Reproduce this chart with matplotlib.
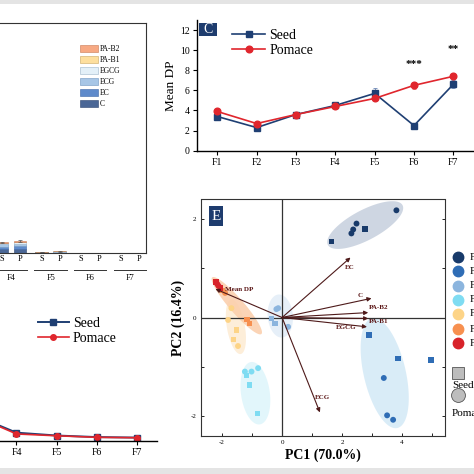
import numpy as np
import matplotlib
matplotlib.use("Agg")
import matplotlib.pyplot as plt
from matplotlib.patches import Rectangle, Polygon
from matplotlib.lines import Line2D
import matplotlib.transforms as mtransforms

plt.rcParams['font.family'] = ['Liberation Serif', 'DejaVu Serif']

# ---------------- data ----------------
fractions = ["F1", "F2", "F3", "F4", "F5", "F6", "F7"]
sub_labels = ["S", "P"]
visible_from = 3  # groups F1-F3 lie outside the cropped picture

# stacked composition (panel left-top), order bottom -> top
comp_names = ["C", "EC", "ECG", "EGCG", "PA-B1", "PA-B2"]
comp_colors = ["#4B6796", "#5E8ACB", "#A7C6E6", "#E3F0F8", "#FDDF9E", "#F7A983"]
comp_edges = ["#2E4670", "#3E68A8", "#6E95C0", "#9DB5C9", "#C9A760", "#C97A55"]
seed_comp = {
    "C":     [4.0, 2.5, 1.2, 0.35, 0.05, 0.01, 0.01],
    "EC":    [3.5, 2.2, 1.0, 0.30, 0.04, 0.01, 0.01],
    "ECG":   [2.5, 1.5, 0.8, 0.25, 0.02, 0.00, 0.00],
    "EGCG":  [1.0, 0.6, 0.4, 0.15, 0.01, 0.00, 0.00],
    "PA-B1": [0.8, 0.5, 0.2, 0.05, 0.00, 0.00, 0.00],
    "PA-B2": [0.8, 0.5, 0.2, 0.05, 0.00, 0.00, 0.00],
}
pomace_comp = {
    "C":     [4.2, 2.7, 1.3, 0.40, 0.06, 0.01, 0.01],
    "EC":    [3.6, 2.3, 1.1, 0.35, 0.05, 0.01, 0.01],
    "ECG":   [2.6, 1.6, 0.9, 0.25, 0.02, 0.00, 0.00],
    "EGCG":  [1.1, 0.7, 0.4, 0.15, 0.01, 0.00, 0.00],
    "PA-B1": [0.8, 0.5, 0.2, 0.05, 0.01, 0.00, 0.00],
    "PA-B2": [0.8, 0.5, 0.2, 0.05, 0.00, 0.00, 0.00],
}
seed_comp_err = [0.8, 0.5, 0.3, 0.05, 0.01, 0.0, 0.0]
pomace_comp_err = [0.8, 0.5, 0.3, 0.12, 0.03, 0.0, 0.0]

# panel C: mean DP
seed_dp = [3.4, 2.3, 3.6, 4.5, 5.7, 2.5, 6.6]
seed_dp_err = [0.15, 0.15, 0.12, 0.15, 0.5, 0.15, 0.4]
pomace_dp = [3.9, 2.7, 3.6, 4.4, 5.2, 6.5, 7.4]
pomace_dp_err = [0.12, 0.12, 0.12, 0.15, 0.2, 0.35, 0.15]
sig_marks = {"F6": "***", "F7": "**"}
sig_y = {"F6": 8.6, "F7": 10.1}

# panel D (bottom-left): content
seed_content = [38.0, 22.0, 9.5, 3.1, 2.0, 1.4, 1.2]
pomace_content = [37.0, 21.0, 9.3, 2.6, 1.9, 1.3, 1.15]

# panel E: PCA scores (PC1, PC2); squares = seed, circles = pomace
pca_groups = ["F1", "F2", "F3", "F4", "F5", "F6", "F7"]
pca_colors = ["#183A6A", "#2F6DB5", "#8CB5DE", "#7FDCF2", "#FDD487", "#F7904F", "#D8232A"]
pca_seed = {
    "F1": [(1.64, 1.55), (2.76, 1.80)],
    "F2": [(2.90, -0.36), (3.87, -0.83), (4.96, -0.86)],
    "F3": [(-0.36, -0.02), (-0.24, -0.12)],
    "F4": [(-1.19, -1.18), (-1.08, -1.37), (-0.82, -1.95)],
    "F5": [(-1.52, -0.25), (-1.62, -0.45)],
    "F6": [(-1.17, -0.04), (-1.08, -0.12), (-1.98, 0.55)],
    "F7": [(-2.20, 0.72), (-2.05, 0.60)],
}
pca_pomace = {
    "F1": [(2.48, 1.91), (2.37, 1.79), (2.31, 1.71), (3.81, 2.18)],
    "F2": [(3.39, -1.23), (3.50, -1.99), (3.70, -2.08)],
    "F3": [(-0.19, 0.17), (-0.13, 0.19), (0.20, -0.19)],
    "F4": [(-1.24, -1.10), (-1.02, -1.10), (-0.80, -1.03)],
    "F5": [(-1.69, 0.19), (-1.80, -0.05), (-1.47, -0.58)],
    "F6": [(-1.90, 0.50)],
    "F7": [(-2.12, 0.64), (-2.16, 0.68)],
}
# confidence ellipses: centre, half-length, half-width (PC1 units), display angle
ell_center = {"F1": (2.77, 1.88), "F2": (3.42, -1.13), "F3": (-0.06, 0.03),
              "F4": (-0.89, -1.54), "F5": (-1.54, -0.19), "F6": (-1.51, 0.24),
              "F7": (-2.12, 0.66)}
ell_a = {"F1": 1.41, "F2": 1.88, "F3": 0.72, "F4": 1.05, "F5": 0.92, "F6": 1.25, "F7": 0.25}
ell_b = {"F1": 0.50, "F2": 0.70, "F3": 0.42, "F4": 0.48, "F5": 0.30, "F6": 0.24, "F7": 0.10}
ell_angle = {"F1": 28, "F2": 103, "F3": 95, "F4": 98, "F5": 100, "F6": 131, "F7": 131}
ell_colors = ["#C6CFDD", "#D3E9F6", "#E2EDF7", "#DDF5FB", "#FDEBD3", "#FBCDA9", "#F5C0BC"]

loading_names = ["Mean DP", "EC", "C", "PA-B2", "PA-B1", "EGCG", "ECG"]
loading_x = [-2.22, 2.28, 2.98, 2.87, 2.87, 2.83, 1.26]
loading_y = [0.58, 1.22, 0.39, 0.10, -0.02, -0.19, -1.93]
loading_label_x = [-1.92, 2.08, 2.52, 2.90, 2.90, 1.80, 1.08]
loading_label_y = [0.56, 1.02, 0.45, 0.20, -0.08, -0.21, -1.63]

# ---------------- figure ----------------
W = H = 474
fig = plt.figure(figsize=(4.74, 4.74), dpi=100)
fig.patch.set_facecolor("white")


def add_ax(l, t, r, b):
    return fig.add_axes([l / W, 1 - b / H, (r - l) / W, (b - t) / H])


def box_label(ax_fig_l, ax_fig_t, w, h, letter, fs):
    fig.add_artist(Rectangle((ax_fig_l / W, 1 - (ax_fig_t + h) / H), w / W, h / H,
                             transform=fig.transFigure, facecolor="#1E3C6E",
                             edgecolor="none", zorder=10))
    fig.text((ax_fig_l + w / 2) / W, 1 - (ax_fig_t + h / 2) / H, letter, color="white",
             fontsize=fs, ha="center", va="center", zorder=11)


navy = "#1F3F73"
red = "#E0262D"

# ---- left-top: stacked bars ----
axb = add_ax(-131, 22.7, 146, 252.7)
group_step = 2.2
xs_s = np.arange(7) * group_step - 0.5
xs_p = np.arange(7) * group_step + 0.5
bw = 0.7
bot_s = np.zeros(7)
bot_p = np.zeros(7)
for name, col, ec in zip(comp_names, comp_colors, comp_edges):
    vs = np.array(seed_comp[name])
    vp = np.array(pomace_comp[name])
    axb.bar(xs_s, vs, bw, bottom=bot_s, color=col, edgecolor=ec, linewidth=0.4, label=name)
    axb.bar(xs_p, vp, bw, bottom=bot_p, color=col, edgecolor=ec, linewidth=0.4)
    bot_s += vs
    bot_p += vp
axb.errorbar(xs_s, bot_s, yerr=seed_comp_err, fmt="none", ecolor="#555555", elinewidth=0.5, capsize=1.5, capthick=0.5)
axb.errorbar(xs_p, bot_p, yerr=pomace_comp_err, fmt="none", ecolor="#555555", elinewidth=0.5, capsize=1.5, capthick=0.5)
axb.set_xlim(-1.3, 14.1)
axb.set_ylim(0, 25)
vis = np.arange(visible_from, 7)
ticks = np.ravel(np.column_stack([xs_s[vis], xs_p[vis]]))
axb.set_xticks(ticks)
axb.set_xticklabels(sub_labels * len(vis), fontsize=6)
axb.tick_params(axis="x", length=0, pad=2)
axb.set_yticks([])
for sp in axb.spines.values():
    sp.set_linewidth(0.8)
    sp.set_color("#333333")
trans = mtransforms.blended_transform_factory(axb.transData, axb.transAxes)
for i in vis:
    axb.plot([xs_s[i] - 0.4, xs_p[i] + 0.4], [-0.075, -0.075], transform=trans, color="#333333",
             lw=0.7, clip_on=False)
    axb.text(i * group_step, -0.108, fractions[i], transform=trans, ha="center", va="center", fontsize=6)
handles, labels = axb.get_legend_handles_labels()
axb.legend(handles[::-1], labels[::-1], loc="upper left", bbox_to_anchor=(80 / W, 1 - 45 / H),
           bbox_transform=fig.transFigure, fontsize=5.5, frameon=False, handlelength=2.3,
           handleheight=1.1, labelspacing=0.35, handletextpad=0.25, borderpad=0, borderaxespad=0)

# ---- panel C: mean DP ----
axc = add_ax(196.5, 20, 473, 150.7)
xi = np.arange(7)
axc.errorbar(xi, seed_dp, yerr=seed_dp_err, color=navy, marker="s", ms=4.5, lw=1.2,
             capsize=1.5, elinewidth=0.6, capthick=0.6, ecolor="#6C87B5")
axc.errorbar(xi, pomace_dp, yerr=pomace_dp_err, color=red, marker="o", ms=4.8, lw=1.2,
             capsize=1.5, elinewidth=0.6, capthick=0.6, ecolor="#E87C7C")
for f, s in sig_marks.items():
    axc.text(fractions.index(f), sig_y[f], s, ha="center", va="center", fontsize=8, fontweight="bold")
axc.set_xlim(-0.53, 6.5)
axc.set_ylim(0, 13)
axc.set_xticks(xi)
axc.set_xticklabels(fractions, fontsize=7)
axc.set_yticks(np.arange(0, 13, 2))
axc.set_yticklabels([str(v) for v in range(0, 13, 2)], fontsize=7)
axc.set_ylabel("Mean DP", fontsize=9.5, labelpad=2)
axc.spines["top"].set_visible(False)
axc.spines["right"].set_visible(False)
for sp in ["left", "bottom"]:
    axc.spines[sp].set_linewidth(1.0)
axc.tick_params(length=3, width=0.8, pad=2)
h_seed = Line2D([], [], color=navy, marker="s", ms=4.5, lw=1.2)
h_pom = Line2D([], [], color=red, marker="o", ms=4.8, lw=1.2)
axc.legend([h_seed, h_pom], ["Seed", "Pomace"], loc="upper left",
           bbox_to_anchor=(232 / W, 1 - 29 / H), bbox_transform=fig.transFigure,
           fontsize=10, frameon=False, handlelength=2.4, labelspacing=0.15, handletextpad=0.3,
           borderpad=0, borderaxespad=0)
box_label(199.3, 22.7, 17.4, 13.3, "C", 10)

# ---- panel D: bottom-left ----
axd = add_ax(-124, 311, 157, 440.7)
axd.plot(xi, seed_content, color=navy, marker="s", ms=3.8, lw=1.4, label="Seed")
axd.plot(xi, pomace_content, color=red, marker="o", ms=4.0, lw=1.2, label="Pomace")
axd.set_xlim(-0.5, 6.5)
axd.set_ylim(0, 50)
axd.set_xticks(xi[visible_from:])
axd.set_xticklabels(fractions[visible_from:], fontsize=7)
axd.set_yticks([])
for sp in ["top", "right", "left"]:
    axd.spines[sp].set_visible(False)
axd.spines["bottom"].set_linewidth(1.0)
axd.tick_params(axis="x", length=3, width=0.8, pad=2)
axd.legend(loc="upper left", bbox_to_anchor=(38 / W, 1 - 317 / H), bbox_transform=fig.transFigure,
           fontsize=10, frameon=False, handlelength=2.2, labelspacing=0.15, handletextpad=0.3,
           borderpad=0, borderaxespad=0)

# ---- panel E: PCA biplot ----
l, t, r, b = 200.5, 199.5, 445, 435.5
axe = add_ax(l, t, r, b)
xlim = (-2.72, 5.43)
ylim = (-2.4, 2.4)
axe.set_xlim(*xlim)
axe.set_ylim(*ylim)
s_ratio = ((b - t) / (ylim[1] - ylim[0])) / ((r - l) / (xlim[1] - xlim[0]))
tt = np.linspace(0, 2 * np.pi, 120)
for g, ecol in zip(pca_groups, ell_colors):
    cx, cy = ell_center[g]
    a, bb, th = ell_a[g], ell_b[g], np.deg2rad(ell_angle[g])
    ex = cx + a * np.cos(tt) * np.cos(th) - bb * np.sin(tt) * np.sin(th)
    ey = cy * s_ratio + a * np.cos(tt) * np.sin(th) + bb * np.sin(tt) * np.cos(th)
    axe.add_patch(Polygon(np.column_stack([ex, ey / s_ratio]), closed=True, facecolor=ecol,
                          edgecolor="none", alpha=0.85, zorder=1))
axe.axhline(0, color="#333333", lw=0.9, zorder=2)
axe.axvline(0, color="#333333", lw=0.9, zorder=2)
for g, col in zip(pca_groups, pca_colors):
    if pca_seed[g]:
        p = np.array(pca_seed[g])
        axe.scatter(p[:, 0], p[:, 1], marker="s", s=16, color=col, edgecolors="none", zorder=3)
    if pca_pomace[g]:
        p = np.array(pca_pomace[g])
        axe.scatter(p[:, 0], p[:, 1], marker="o", s=18, color=col, edgecolors="none", zorder=3)
arrow_col = "#4E1A1A"
for name, x, y, lx, ly in zip(loading_names, loading_x, loading_y, loading_label_x, loading_label_y):
    axe.annotate("", xy=(x, y), xytext=(0, 0),
                 arrowprops=dict(arrowstyle="-|>", color=arrow_col, lw=0.8, mutation_scale=6,
                                 shrinkA=0, shrinkB=0), zorder=4)
    axe.text(lx, ly, name, fontsize=5, fontweight="bold", color="#5A1515", ha="left", va="center",
             zorder=5)
axe.set_xticks(np.arange(-2, 6, 1))
axe.set_xticklabels(["-2", "", "0", "", "2", "", "4", ""], fontsize=5)
axe.set_yticks(np.arange(-2, 3, 1))
axe.set_yticklabels(["-2", "", "0", "", "2"], fontsize=5)
axe.tick_params(direction="in", length=2, width=0.6, right=True, pad=3)
for sp in axe.spines.values():
    sp.set_linewidth(0.8)
    sp.set_color("#333333")
axe.set_xlabel("PC1 (70.0%)", fontsize=10, fontweight="bold", labelpad=3)
axe.set_ylabel("PC2 (16.4%)", fontsize=10, fontweight="bold", labelpad=4)
box_label(209, 206, 14, 20, "E", 11)

# PCA legend (outside, right side)
leg_y = [257, 271, 286, 300, 314, 329, 343]
for g, col, yy in zip(pca_groups, pca_colors, leg_y):
    fig.add_artist(Line2D([457.7 / W], [1 - yy / H], transform=fig.transFigure, marker="o",
                          ms=7.5, color=col, linestyle="none"))
    fig.text(470 / W, 1 - yy / H, g, fontsize=8, va="center", ha="left")
fig.add_artist(Line2D([457.5 / W], [1 - 372.7 / H], transform=fig.transFigure, marker="s",
                      ms=8.5, markerfacecolor="#BDBDBD", markeredgecolor="#555555",
                      markeredgewidth=0.6, linestyle="none"))
fig.text(452 / W, 1 - 386 / H, "Seed", fontsize=8, va="center", ha="left")
fig.add_artist(Line2D([457.5 / W], [1 - 395 / H], transform=fig.transFigure, marker="o",
                      ms=10, markerfacecolor="#BDBDBD", markeredgecolor="#555555",
                      markeredgewidth=0.6, linestyle="none"))
fig.text(452 / W, 1 - 413 / H, "Pomace", fontsize=8, va="center", ha="left")

# gray page bands (cropped figure borders)
fig.add_artist(Rectangle((0, 1 - 3.5 / H), 1, 3.5 / H, transform=fig.transFigure,
                         facecolor="#E4E4E4", edgecolor="none", zorder=20))
fig.add_artist(Rectangle((0, 0), 1, 6 / H, transform=fig.transFigure,
                         facecolor="#E4E4E4", edgecolor="none", zorder=20))

fig.savefig("out.png", dpi=100, facecolor="white")
